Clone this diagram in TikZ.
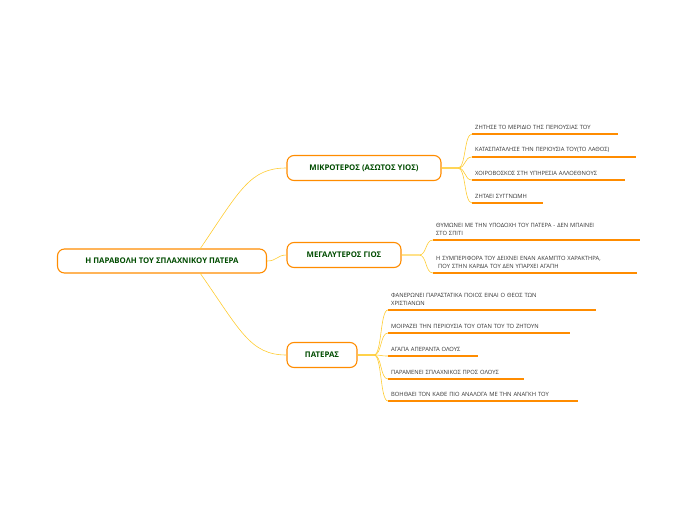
\documentclass[tikz,border=0pt]{standalone}
\usepackage{fontspec}
\setmainfont{Open Sans}
\begin{document}
\begin{tikzpicture}[x=1pt,y=-1pt,
  main/.style={draw=orange!90!yellow,line width=1.1pt,rounded corners=7pt,fill=white,font=\bfseries\fontsize{7.8}{9}\selectfont,text=green!30!black,inner sep=0pt},
  leaf/.style={anchor=south west,align=left,font=\fontsize{5.8}{8.5}\selectfont,text=black!80,inner xsep=3pt,inner ysep=4pt},
  uline/.style={draw=orange!90!yellow,line width=1.1pt},
  conn/.style={draw=orange!50!yellow!80!white,line width=0.6pt}]
\useasboundingbox (0,0) rectangle (697,520);
\node[main,minimum width=209,minimum height=24] (root) at (162,261) {Η ΠΑΡΑΒΟΛΗ ΤΟΥ ΣΠΛΑΧΝΙΚΟΥ ΠΑΤΕΡΑ};
\node[main,minimum width=154,minimum height=25] (a) at (364,168) {ΜΙΚΡΟΤΕΡΟΣ (ΑΣΩΤΟΣ ΥΙΟΣ)};
\node[main,minimum width=114,minimum height=25] (b) at (344,255) {ΜΕΓΑΛΥΤΕΡΟΣ ΓΙΟΣ};
\node[main,minimum width=70,minimum height=25] (c) at (322,355) {ΠΑΤΕΡΑΣ};
\draw[conn] (200,249) .. controls (240,190) and (250,168) .. (a.west);
\draw[conn] (root.east) .. controls (277,261) and (277,255) .. (b.west);
\draw[conn] (200,273) .. controls (240,330) and (250,355) .. (c.west);
\foreach \n/\y/\L/\t in {a1/134/146/ΖΗΤΗΣΕ ΤΟ ΜΕΡΙΔΙΟ ΤΗΣ ΠΕΡΙΟΥΣΙΑΣ ΤΟΥ,
  a2/157/164/ΚΑΤΑΣΠΑΤΑΛΗΣΕ ΤΗΝ ΠΕΡΙΟΥΣΙΑ ΤΟΥ(ΤΟ ΛΑΘΟΣ),
  a3/180/153/ΧΟΙΡΟΒΟΣΚΟΣ ΣΤΗ ΥΠΗΡΕΣΙΑ ΑΛΛΟΕΘΝΟΥΣ,
  a4/203/71/ΖΗΤΑΕΙ ΣΥΓΓΝΩΜΗ}{
  \node[leaf,text width=\L-6] (\n) at (472,\y) {\t};
  \draw[uline] (\n.south west) -- (\n.south east);
  \draw[conn] (a.east) -- (458,168) .. controls (466,168) and (464,\y) .. (\n.south west);
}
\foreach \n/\y/\L/\t in {b1/240/207/{ΘΥΜΩΝΕΙ ΜΕ ΤΗΝ ΥΠΟΔΟΧΗ ΤΟΥ ΠΑΤΕΡΑ - ΔΕΝ ΜΠΑΙΝΕΙ\\ΣΤΟ ΣΠΙΤΙ},
  b2/273/204/{Η ΣΥΜΠΕΡΙΦΟΡΑ ΤΟΥ ΔΕΙΧΝΕΙ ΕΝΑΝ ΑΚΑΜΠΤΟ ΧΑΡΑΚΤΗΡΑ,\\\ ΠΟΥ ΣΤΗΝ ΚΑΡΔΙΑ ΤΟΥ ΔΕΝ ΥΠΑΡΧΕΙ ΑΓΑΠΗ}}{
  \node[leaf,text width=\L-6] (\n) at (433,\y) {\t};
  \draw[uline] (\n.south west) -- (\n.south east);
  \draw[conn] (b.east) -- (419,255) .. controls (427,255) and (425,\y) .. (\n.south west);
}
\foreach \n/\y/\L/\t in {c1/310/208/{ΦΑΝΕΡΩΝΕΙ ΠΑΡΑΣΤΑΤΙΚΑ ΠΟΙΟΣ ΕΙΝΑΙ Ο ΘΕΟΣ ΤΩΝ\\ΧΡΙΣΤΙΑΝΩΝ},
  c2/333/182/ΜΟΙΡΑΖΕΙ ΤΗΝ ΠΕΡΙΟΥΣΙΑ ΤΟΥ ΟΤΑΝ ΤΟΥ ΤΟ ΖΗΤΟΥΝ,
  c3/356/90/ΑΓΑΠΑ ΑΠΕΡΑΝΤΑ ΟΛΟΥΣ,
  c4/379/136/ΠΑΡΑΜΕΝΕΙ ΣΠΛΑΧΝΙΚΟΣ ΠΡΟΣ ΟΛΟΥΣ,
  c5/401/190/ΒΟΗΘΑΕΙ ΤΟΝ ΚΑΘΕ ΠΙΟ ΑΝΑΛΟΓΑ ΜΕ ΤΗΝ ΑΝΑΓΚΗ ΤΟΥ}{
  \node[leaf,text width=\L-6] (\n) at (388,\y) {\t};
  \draw[uline] (\n.south west) -- (\n.south east);
  \draw[conn] (c.east) -- (374,355) .. controls (382,355) and (380,\y) .. (\n.south west);
}
\end{tikzpicture}
\end{document}
